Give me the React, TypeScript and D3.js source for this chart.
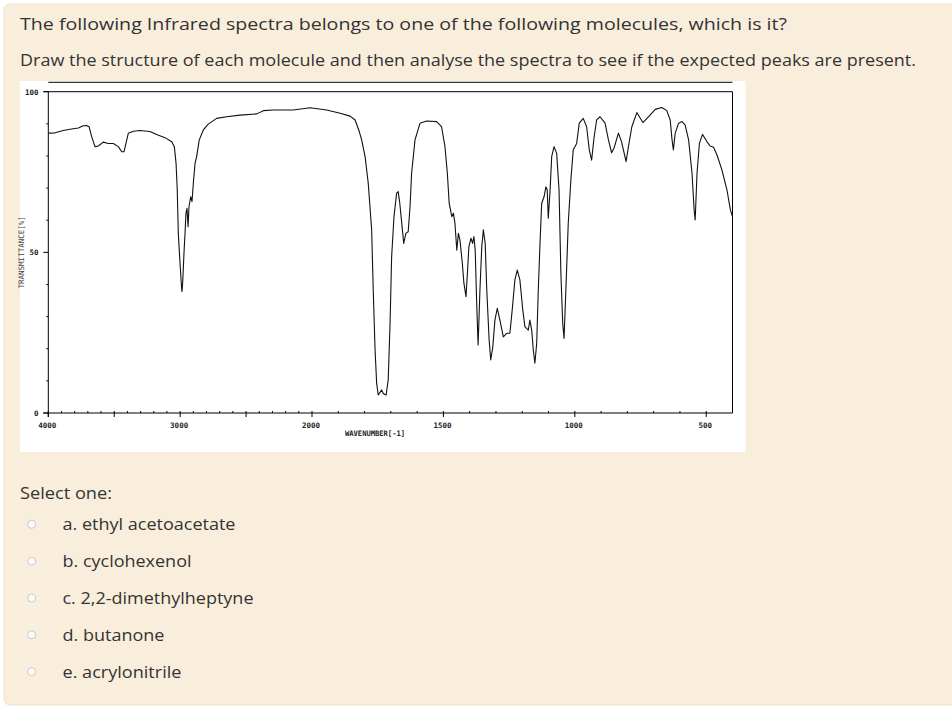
import React from 'react';
import * as d3 from 'd3';

const WAVENUMBER = [
  4000, 3949, 3886, 3823, 3772, 3735, 3709, 3691, 3671, 3646, 3621, 3583, 3545, 3507, 3469, 3443, 3426, 3411, 3393, 3355,
  3305, 3229, 3178, 3115, 3064, 3044, 3031, 3022, 3014, 3001, 2988, 2986, 2981, 2971, 2963, 2956, 2948, 2940, 2933, 2920,
  2910, 2900, 2887, 2875, 2855, 2824, 2787, 2723, 2647, 2546, 2419, 2369, 2294, 2142, 2015, 1944, 1893, 1855, 1836, 1820,
  1811, 1798, 1786, 1773, 1767, 1760, 1754, 1748, 1735, 1729, 1718, 1710, 1703, 1697, 1688, 1678, 1672, 1666, 1656, 1651,
  1643, 1634, 1627, 1621, 1608, 1589, 1564, 1526, 1507, 1494, 1485, 1478, 1468, 1462, 1456, 1449, 1443, 1437, 1428, 1422,
  1414, 1408, 1403, 1395, 1389, 1384, 1379, 1373, 1368, 1361, 1354, 1348, 1341, 1335, 1326, 1320, 1312, 1304, 1295, 1285,
  1272, 1259, 1247, 1237, 1228, 1219, 1209, 1198, 1190, 1177, 1171, 1164, 1158, 1152, 1145, 1139, 1132, 1126, 1117, 1110,
  1105, 1101, 1094, 1088, 1079, 1069, 1060, 1053, 1046, 1041, 1034, 1025, 1015, 1006, 993, 983, 968, 955, 945, 936,
  927, 917, 904, 885, 872, 860, 851, 834, 822, 805, 796, 783, 764, 741, 720, 694, 669, 650, 637, 630,
  625, 618, 605, 592, 580, 567, 554, 546, 542, 535, 526, 514, 497, 485, 472, 459, 440, 421, 408, 400,
];

const TRANSMITTANCE = [
  87.1, 87.2, 87.9, 88.4, 88.7, 89.4, 89.5, 89.1, 86.0, 82.9, 83.1, 84.3, 83.9, 83.9, 82.9, 81.3, 81.3, 83.9, 87.1, 87.7,
  87.9, 87.6, 86.7, 85.7, 84.4, 82.9, 77.7, 69.4, 55.9, 46.6, 38.3, 37.8, 40.4, 49.7, 55.9, 62.2, 63.7, 58.0, 64.2, 67.3,
  65.8, 71.5, 77.7, 79.8, 85.0, 88.1, 89.9, 91.7, 92.2, 92.7, 93.1, 94.1, 94.3, 94.3, 95.0, 94.3, 93.3, 92.4, 91.2, 87.6,
  85.0, 79.8, 71.5, 57.0, 38.3, 19.6, 9.2, 5.6, 7.2, 6.1, 5.6, 10.3, 27.9, 48.6, 61.1, 68.4, 68.9, 65.3, 57.0, 52.8,
  55.9, 56.4, 64.2, 74.6, 85.0, 90.2, 90.9, 90.7, 89.1, 82.9, 74.6, 65.3, 61.1, 62.2, 59.0, 50.7, 55.9, 53.8, 46.6, 40.4,
  36.2, 44.5, 51.8, 54.4, 52.8, 54.9, 50.7, 33.1, 21.2, 38.3, 51.8, 57.0, 52.8, 38.3, 22.7, 16.5, 20.6, 28.9, 32.6, 28.9,
  23.7, 24.8, 24.8, 33.1, 41.4, 44.5, 41.4, 32.1, 26.9, 25.8, 28.9, 25.8, 19.6, 15.5, 21.7, 38.3, 53.8, 65.3, 67.3, 70.4,
  69.4, 60.6, 69.4, 79.8, 82.9, 80.8, 69.4, 43.5, 27.9, 23.2, 38.3, 59.0, 72.5, 81.9, 83.9, 90.2, 91.7, 89.1, 81.9, 78.7,
  85.6, 91.2, 92.2, 90.2, 85.0, 81.0, 82.4, 87.1, 84.4, 78.2, 82.9, 89.1, 93.5, 90.4, 92.2, 94.5, 95.1, 94.1, 91.2, 85.0,
  81.9, 87.1, 90.2, 90.7, 89.6, 85.0, 74.6, 63.2, 60.1, 74.6, 83.9, 86.7, 84.4, 83.1, 82.7, 80.3, 75.6, 69.4, 63.2, 61.1,
];

const X_MAJOR_TICKS = [4000, 3500, 3000, 2500, 2000, 1500, 1000, 500];
const X_TICK_LABELS = [4000, 3000, 2000, 1500, 1000, 500];
const Y_TICKS = [0, 10, 20, 30, 40, 50, 60, 70, 80, 90, 100];
const Y_TICK_LABELS = [0, 50, 100];

const QUESTION_LINES = [
  'The following Infrared spectra belongs to one of the following molecules, which is it?',
  'Draw the structure of each molecule and then analyse the spectra to see if the expected peaks are present.',
];
const SELECT_LABEL = 'Select one:';
const OPTIONS = [
  'a. ethyl acetoacetate',
  'b. cyclohexenol',
  'c. 2,2-dimethylheptyne',
  'd. butanone',
  'e. acrylonitrile',
];
const OPTION_WIDTHS = [173, 129, 191, 102, 119];

const X_AXIS_TITLE = 'WAVENUMBER[-1]';
const Y_AXIS_TITLE = 'TRANSMITTANCE[%]';

export default function App() {
  const x = d3.scaleLinear().domain([4000, 2000, 400]).range([48.3, 312, 732.5]);
  const y = d3.scaleLinear().domain([0, 100]).range([413, 91.7]);

  const line = d3
    .line<number>()
    .x((_, i) => x(WAVENUMBER[i]))
    .y((d) => y(d))
    .curve(d3.curveLinear);
  const path = line(TRANSMITTANCE) || '';

  const minorX: number[] = d3.range(3900, 400, -100).filter((v) => v % 500 !== 0);

  const left = x(4000);
  const right = x(400);
  const top = y(100);
  const bottom = y(0);

  const textFont = "'Open Sans', sans-serif";
  const pixFont = "'DejaVu Sans Mono', monospace";

  return (
    <svg
      width={952}
      height={708}
      style={{ position: 'absolute', left: 0, top: 0, display: 'block' }}
    >
      <rect x={0} y={0} width={952} height={708} fill="#ffffff" />
      <rect x={4} y={4} width={962} height={701} rx={6} fill="#f9eedc" stroke="#efe2cb" />

      {/* question text */}
      {QUESTION_LINES.map((t, i) => (
        <text
          key={i}
          x={20}
          y={i === 0 ? 30 : 66}
          fontFamily={textFont}
          fontSize={17}
          fill="#333333"
          textLength={i === 0 ? 767 : 896}
          lengthAdjust="spacingAndGlyphs"
        >
          {t}
        </text>
      ))}

      {/* spectrum image area */}
      <rect x={20} y={81} width={725.5} height={371} fill="#ffffff" />

      {/* frame */}
      <line x1={left} x2={right} y1={82.3} y2={82.3} stroke="#000" strokeWidth={1} />
      <line x1={left - 5} x2={right} y1={top} y2={top} stroke="#000" strokeWidth={1} />
      <line x1={left} x2={left} y1={top} y2={bottom + 4} stroke="#000" strokeWidth={1} />
      <line x1={right} x2={right} y1={top} y2={bottom} stroke="#000" strokeWidth={1} />
      <line x1={left - 5} x2={right} y1={bottom} y2={bottom} stroke="#000" strokeWidth={1} />

      {/* y ticks */}
      {Y_TICKS.map((v) => {
        const major = Y_TICK_LABELS.includes(v);
        return (
          <line
            key={'yt' + v}
            x1={left - (major ? 5 : 2)}
            x2={left}
            y1={y(v)}
            y2={y(v)}
            stroke="#000"
            strokeWidth={1}
          />
        );
      })}
      {Y_TICK_LABELS.map((v) => (
        <text
          key={'yl' + v}
          x={38.5}
          y={y(v) + 2.8}
          textAnchor="end"
          fontFamily={pixFont}
          fontWeight="bold"
          fontSize={7.5}
          fill="#222"
        >
          {v}
        </text>
      ))}
      <text
        transform={`translate(24,${y(50)}) rotate(-90)`}
        textAnchor="middle"
        fontFamily={pixFont}
        fontSize={7.5}
        fill="#444"
      >
        {Y_AXIS_TITLE}
      </text>

      {/* x ticks */}
      {minorX.map((v) => (
        <line key={'xm' + v} x1={x(v)} x2={x(v)} y1={bottom - 2} y2={bottom} stroke="#000" strokeWidth={1} />
      ))}
      {X_MAJOR_TICKS.map((v) => (
        <line key={'xM' + v} x1={x(v)} x2={x(v)} y1={bottom - 2} y2={bottom + 4} stroke="#000" strokeWidth={1} />
      ))}
      {X_TICK_LABELS.map((v) => (
        <text
          key={'xl' + v}
          x={x(v) - 1}
          y={427.5}
          textAnchor="middle"
          fontFamily={pixFont}
          fontWeight="bold"
          fontSize={7.5}
          fill="#222"
        >
          {v}
        </text>
      ))}
      <text
        x={345}
        y={435.5}
        fontFamily={pixFont}
        fontWeight="bold"
        fontSize={7.5}
        fill="#222"
        textLength={60}
        lengthAdjust="spacingAndGlyphs"
      >
        {X_AXIS_TITLE}
      </text>

      {/* spectrum */}
      <path d={path} fill="none" stroke="#111" strokeWidth={1.1} strokeLinejoin="round" />

      {/* answer options */}
      <text x={20} y={498.5} fontFamily={textFont} fontSize={17} fill="#333333" textLength={92} lengthAdjust="spacingAndGlyphs">
        {SELECT_LABEL}
      </text>
      {OPTIONS.map((t, i) => {
        const cy = 524.3 + i * 36.85;
        return (
          <g key={t}>
            <circle cx={31.7} cy={cy} r={4} fill="#fbfbfb" stroke="#c4c4c4" strokeWidth={0.9} />
            <text
              x={62.5}
              y={cy + 5.8}
              fontFamily={textFont}
              fontSize={17}
              fill="#333333"
              textLength={OPTION_WIDTHS[i]}
              lengthAdjust="spacingAndGlyphs"
            >
              {t}
            </text>
          </g>
        );
      })}
    </svg>
  );
}
